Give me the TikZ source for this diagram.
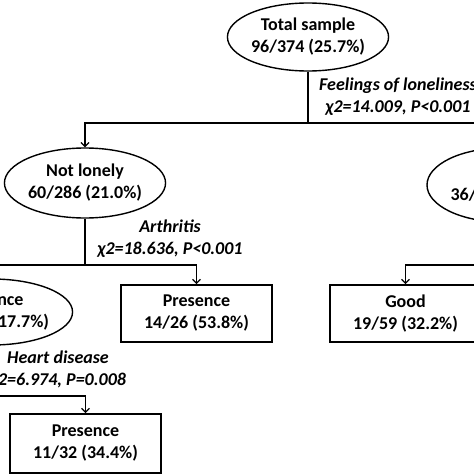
\documentclass[tikz,border=0pt]{standalone}
\usepackage{fontspec}
\setmainfont{Carlito}
\usetikzlibrary{arrows.meta,shapes.geometric}
\begin{document}
\begin{tikzpicture}[x=1pt,y=-1pt,
  txt/.style={font=\fontsize{18}{22}\selectfont\bfseries},
  ell/.style={draw,line width=1.4pt,ellipse,inner sep=0pt,align=center,txt},
  box/.style={draw,line width=1.7pt,rectangle,inner sep=0pt,align=center,txt,minimum width=151pt},
  lab/.style={align=center,inner sep=0pt,font=\fontsize{18}{22}\selectfont\bfseries\itshape},
  conn/.style={line width=1.2pt},
  arr/.style={conn,-{Straight Barb[length=4pt,width=8pt]}}]
\useasboundingbox (0,0) rectangle (474,474);
\clip (0,0) rectangle (474,474);
\fill[white] (0,0) rectangle (474,474);
% nodes
\node[ell,minimum width=150pt,minimum height=68pt] (total) at (308,37) {Total sample\\96/374 (25.7\%)};
\node[ell,minimum width=156pt,minimum height=70pt] (notlonely) at (85,183) {Not lonely\\60/286 (21.0\%)};
\node[ell,minimum width=152pt,minimum height=74pt] (lonely) at (503,185) {Lonely\\36/88 (40.9\%)};
\node[ell,minimum width=140pt,minimum height=66pt] (absence) at (-8,312) {Absence\\46/260 (17.7\%)};
\node[box,minimum height=57pt] (pres1) at (196.5,313.5) {Presence\\14/26 (53.8\%)};
\node[box,minimum height=57pt] (good) at (405.5,313.5) {Good\\19/59 (32.2\%)};
\node[box,minimum height=59pt] (pres2) at (85.5,443.5) {Presence\\11/32 (34.4\%)};
% labels
\node[lab] (l1) at (398,97) {Feelings of loneliness\\χ2=14.009, P<0.001};
\node[lab] (l2) at (170,239) {Arthritis\\χ2=18.636, P<0.001};
\node[lab] (l3) at (58,370) {Heart disease\\χ2=6.974, P=0.008};
% connectors
\coordinate (j1) at (308,123);
\coordinate (j2) at (85,265);
\coordinate (j3) at (503,265);
\coordinate (j4) at (-8,396);
\coordinate (r3) at (560,265);
\draw[conn] (total.south) -- (j1);
\draw[arr] (j1) -| (notlonely.north);
\draw[arr] (j1) -| (lonely.north);
\draw[conn] (notlonely.south) -- (j2);
\draw[arr] (j2) -| (absence.north);
\draw[arr] (j2) -| (pres1.north);
\draw[conn] (lonely.south) -- (j3);
\draw[arr] (j3) -| (good.north);
\draw[conn] (j3) -- (r3);
\draw[conn] (absence.south) -- (j4);
\draw[arr] (j4) -| (pres2.north);
\end{tikzpicture}
\end{document}
